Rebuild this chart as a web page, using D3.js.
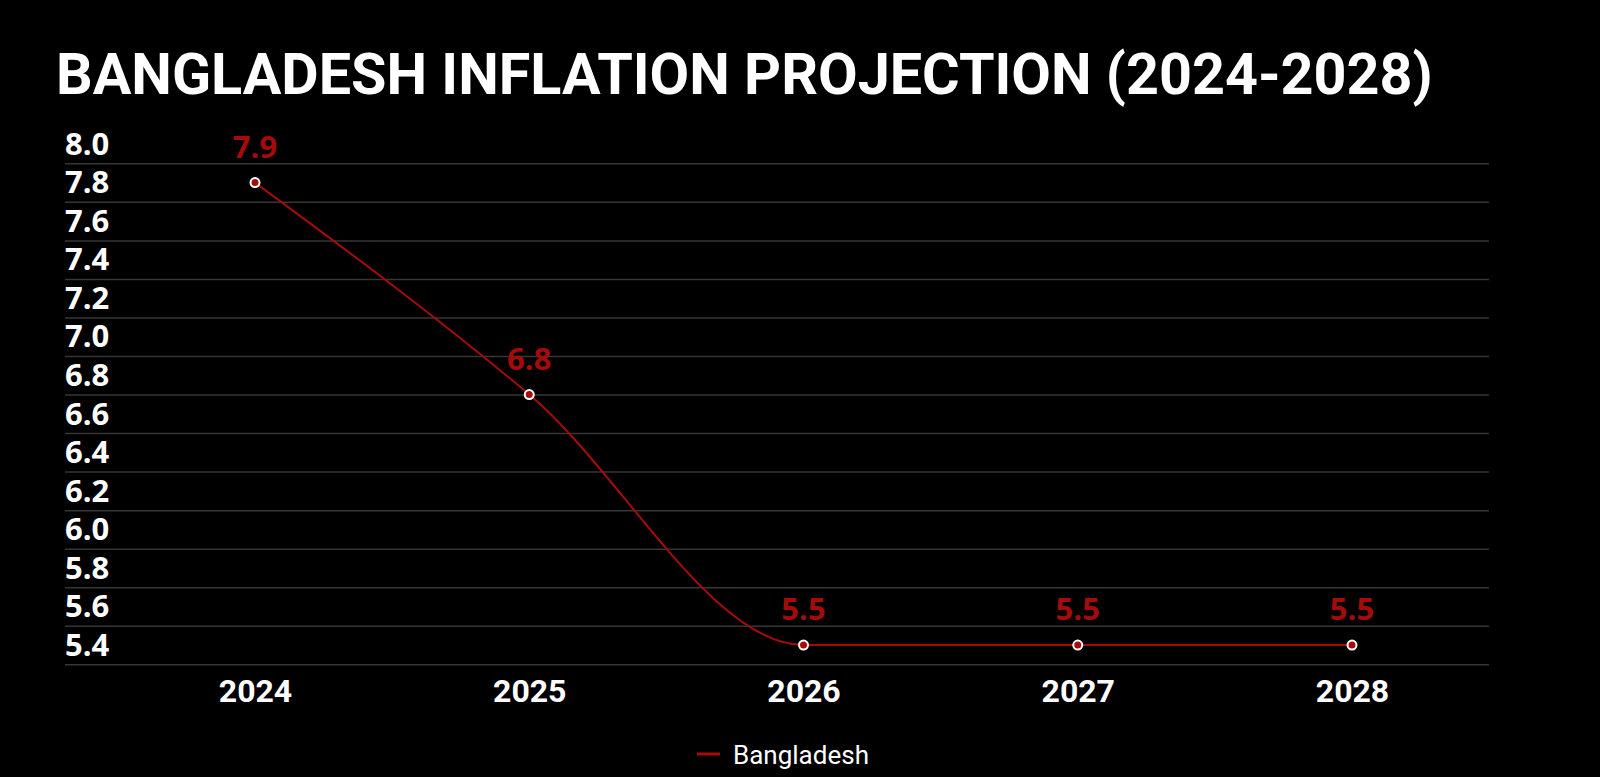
<!DOCTYPE html>
<html>
<head>
<meta charset="utf-8">
<script src="https://cdn.jsdelivr.net/npm/d3@7"></script>
<style>
  body { margin: 0; background: #000; }
  svg { display: block; }
</style>
</head>
<body>
<div id="chart"></div>
<script>
// chart data
const years = ["2024", "2025", "2026", "2027", "2028"];
const inflation = [7.9, 6.8, 5.5, 5.5, 5.5];
const yTicks = [5.4, 5.6, 5.8, 6.0, 6.2, 6.4, 6.6, 6.8, 7.0, 7.2, 7.4, 7.6, 7.8, 8.0];
const seriesName = "Bangladesh";
const titleText = "BANGLADESH INFLATION PROJECTION (2024-2028)";

const W = 1600, H = 777;
const red = "#a50b0b";
let margin = { top: 163.3, right: 111, bottom: 112.7, left: 65 };

let svg = d3.select("#chart").append("svg")
  .attr("width", W)
  .attr("height", H)
  .style("background", "#000");

// title
svg.append("text")
  .attr("x", 56)
  .attr("y", 94)
  .attr("fill", "#fff")
  .style("font-family", "Roboto")
  .style("font-weight", 700)
  .style("font-size", "57.5px")
  .text(titleText);

let y = d3.scaleLinear()
  .domain([5.4, 8.0])
  .range([H - margin.bottom, margin.top]);

let x = d3.scalePoint()
  .domain(years)
  .range([255, 1352]);

// gridlines + y labels (label sits above its line)
let yAxis = svg.append("g")
  .attr("transform", "translate(" + margin.left + ",0)")
  .call(d3.axisRight(y)
    .tickValues(yTicks)
    .tickSize(W - margin.left - margin.right)
    .tickFormat(d3.format(".1f")));
yAxis.select(".domain").remove();
yAxis.selectAll(".tick line")
  .attr("stroke", "#363636")
  .attr("stroke-width", 1.5);
yAxis.selectAll(".tick text")
  .attr("x", 0)
  .attr("dy", -9)
  .attr("text-anchor", "start")
  .attr("fill", "#fff")
  .style("font-family", "'Open Sans'")
  .style("font-weight", 700)
  .style("font-size", "31px");

// x labels
let xAxis = svg.append("g")
  .attr("transform", "translate(0," + (H - margin.bottom) + ")")
  .call(d3.axisBottom(x).tickSize(0).tickPadding(0));
xAxis.select(".domain").remove();
xAxis.selectAll(".tick text")
  .attr("y", 37.5)
  .attr("dy", 0)
  .attr("fill", "#fff")
  .style("font-family", "Roboto")
  .style("font-weight", 700)
  .style("font-size", "32px");

let data = years.map((yr, i) => ({ year: yr, value: inflation[i] }));

let line = d3.line()
  .x(d => x(d.year))
  .y(d => y(d.value))
  .curve(d3.curveMonotoneX);

svg.append("path")
  .datum(data)
  .attr("fill", "none")
  .attr("stroke", red)
  .attr("stroke-width", 2)
  .attr("d", line);

svg.selectAll(".dot")
  .data(data)
  .enter().append("circle")
  .attr("class", "dot")
  .attr("cx", d => x(d.year))
  .attr("cy", d => y(d.value))
  .attr("r", 4.5)
  .attr("fill", red)
  .attr("stroke", "#fff")
  .attr("stroke-width", 2);

svg.selectAll(".val")
  .data(data)
  .enter().append("text")
  .attr("class", "val")
  .attr("x", d => x(d.year))
  .attr("y", d => y(d.value) - 25)
  .attr("text-anchor", "middle")
  .attr("fill", red)
  .style("font-family", "'Open Sans'")
  .style("font-weight", 700)
  .style("font-size", "31px")
  .text(d => d3.format(".1f")(d.value));

// legend
let legend = svg.append("g").attr("transform", "translate(697,754)");
legend.append("line")
  .attr("x1", 0).attr("x2", 23)
  .attr("stroke", red)
  .attr("stroke-width", 3);
legend.append("text")
  .attr("x", 36)
  .attr("y", 9.5)
  .attr("fill", "#fff")
  .style("font-family", "Roboto")
  .style("font-size", "26px")
  .text(seriesName);
</script>
</body>
</html>
